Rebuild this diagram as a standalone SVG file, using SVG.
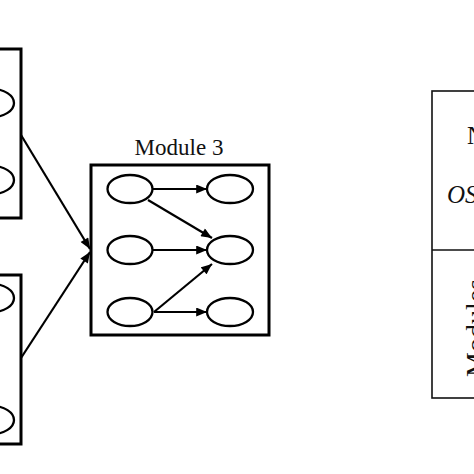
<svg xmlns="http://www.w3.org/2000/svg" width="474" height="474" viewBox="0 0 474 474">
<style>
.box{fill:none;stroke:#000;stroke-width:3}
.el{fill:#fff;stroke:#000;stroke-width:2.3}
.ln{stroke:#000;stroke-width:2.2;fill:none}
.tb{fill:none;stroke:#111;stroke-width:1.6}
.t{font-family:"Liberation Serif",serif;fill:#111}
</style>
<defs>
<marker id="ah" viewBox="0 0 12 10" refX="12" refY="5" markerWidth="12" markerHeight="9" markerUnits="userSpaceOnUse" orient="auto">
<path d="M0,0 L12,5 L0,10 Z" fill="#000"/>
</marker>
</defs>
<rect width="474" height="474" fill="#fff"/>
<g id="module1">
<rect class="box" x="-10" y="49" width="31" height="169"/>
<ellipse class="el" cx="-8" cy="103" rx="22" ry="14"/>
<ellipse class="el" cx="-8" cy="180" rx="22" ry="14"/>
</g>
<g id="module2">
<rect class="box" x="-10" y="275" width="31" height="169"/>
<ellipse class="el" cx="-8" cy="298" rx="22" ry="14"/>
<ellipse class="el" cx="-8" cy="420" rx="22" ry="14"/>
</g>
<g id="module3">
<text class="t" x="179" y="155" font-size="23" text-anchor="middle">Module 3</text>
<rect class="box" x="91" y="165" width="178" height="170"/>
<ellipse class="el" cx="130" cy="189" rx="22.5" ry="14"/>
<ellipse class="el" cx="130" cy="250" rx="22.5" ry="14"/>
<ellipse class="el" cx="130" cy="312" rx="22.5" ry="14"/>
<ellipse class="el" cx="230" cy="189" rx="23" ry="14"/>
<ellipse class="el" cx="230" cy="250" rx="23" ry="14"/>
<ellipse class="el" cx="230" cy="312" rx="23" ry="14"/>
</g>
<g id="connectors">
<line class="ln" x1="21" y1="135" x2="90" y2="249" marker-end="url(#ah)"/>
<line class="ln" x1="21" y1="358" x2="90" y2="252" marker-end="url(#ah)"/>
<line class="ln" x1="153" y1="189" x2="207" y2="189" marker-end="url(#ah)"/>
<line class="ln" x1="148" y1="200" x2="212" y2="238" marker-end="url(#ah)"/>
<line class="ln" x1="153" y1="250" x2="207" y2="250" marker-end="url(#ah)"/>
<line class="ln" x1="154" y1="312" x2="212" y2="264" marker-end="url(#ah)"/>
<line class="ln" x1="154" y1="312" x2="207" y2="312" marker-end="url(#ah)"/>
</g>
<g id="table">
<rect class="tb" x="432" y="91" width="60" height="307"/>
<line class="tb" x1="432" y1="250" x2="480" y2="250"/>
<text class="t" x="467" y="144" font-size="25">N</text>
<text class="t" x="447" y="203" font-size="25" font-style="italic">OS</text>
<text class="t" font-size="28" transform="translate(485,377) rotate(-90)">Modules</text>
</g>
</svg>
